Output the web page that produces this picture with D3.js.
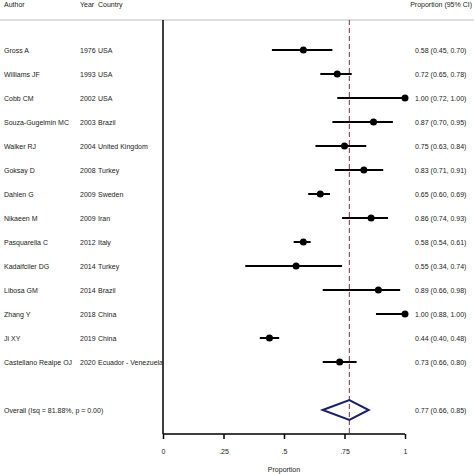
<!DOCTYPE html>
<html>
<head>
<meta charset="utf-8">
<script src="https://cdn.jsdelivr.net/npm/d3@7"></script>
<style>
  body { margin: 0; background: #fff; }
  text { font-family: "Liberation Sans", Arial, sans-serif; }
</style>
</head>
<body>
<div id="chart"></div>
<script>
// study data
var authors = ["Gross A", "Williams JF", "Cobb CM", "Souza-Gugelmin MC", "Walker RJ", "Goksay D",
  "Dahlen G", "Nikaeen M", "Pasquarella C", "Kadaifciler DG", "Libosa GM", "Zhang Y", "Ji XY",
  "Castellano Realpe OJ"];
var years = [1976, 1993, 2002, 2003, 2004, 2008, 2009, 2009, 2012, 2014, 2014, 2018, 2019, 2020];
var countries = ["USA", "USA", "USA", "Brazil", "United Kingdom", "Turkey", "Sweden", "Iran", "Italy",
  "Turkey", "Brazil", "China", "China", "Ecuador - Venezuela"];
var est = [0.58, 0.72, 1.00, 0.87, 0.75, 0.83, 0.65, 0.86, 0.58, 0.55, 0.89, 1.00, 0.44, 0.73];
var lo = [0.45, 0.65, 0.72, 0.70, 0.63, 0.71, 0.60, 0.74, 0.54, 0.34, 0.66, 0.88, 0.40, 0.66];
var hi = [0.70, 0.78, 1.00, 0.95, 0.84, 0.91, 0.69, 0.93, 0.61, 0.74, 0.98, 1.00, 0.48, 0.80];
var overall = {est: 0.77, lo: 0.66, hi: 0.85, label: "Overall  (Isq = 81.88%, p = 0.00)"};
var xTicks = [0, 0.25, 0.5, 0.75, 1];
var xTickLabels = ["0", ".25", ".5", ".75", "1"];

var W = 474, H = 474;
var svg = d3.select("#chart").append("svg")
  .attr("width", W).attr("height", H);

var x = d3.scaleLinear().domain([0, 1]).range([163, 405]);
// row positions: studies then a gap then overall
var y = d3.scaleLinear().domain([0, 1]).range([50, 74]);
var yOverall = y(authors.length - 1) + 48;
var axisY = 434, topY = 20;
var fs = "7px";

// header
svg.append("line").attr("x1", 0).attr("x2", W).attr("y1", topY).attr("y2", topY)
  .attr("stroke", "#bbb").attr("stroke-width", 1);
var hdr = [["Author", 4, "start"], ["Year", 80, "start"], ["Country", 98, "start"],
  ["Proportion (95% CI)", 472, "end"]];
svg.selectAll(".hdr").data(hdr).enter().append("text")
  .attr("x", function(d) { return d[1]; }).attr("y", 7)
  .attr("text-anchor", function(d) { return d[2]; })
  .attr("font-size", fs).attr("fill", "#222").text(function(d) { return d[0]; });

// null line at 0
svg.append("line").attr("x1", x(0)).attr("x2", x(0)).attr("y1", topY).attr("y2", axisY)
  .attr("stroke", "#000").attr("stroke-width", 1.5);

// overall estimate dashed line
svg.append("line").attr("x1", x(overall.est)).attr("x2", x(overall.est)).attr("y1", topY).attr("y2", axisY)
  .attr("stroke", "#8b2a3a").attr("stroke-width", 1).attr("stroke-dasharray", "5,3");

var idx = d3.range(authors.length);

// study labels
var rows = svg.append("g");
rows.selectAll(".au").data(idx).enter().append("text")
  .attr("x", 4).attr("y", function(i) { return y(i) + 2.5; })
  .attr("font-size", fs).attr("fill", "#222").text(function(i) { return authors[i]; });
rows.selectAll(".yr").data(idx).enter().append("text")
  .attr("x", 80).attr("y", function(i) { return y(i) + 2.5; })
  .attr("font-size", fs).attr("fill", "#222").text(function(i) { return years[i]; });
rows.selectAll(".co").data(idx).enter().append("text")
  .attr("x", 98).attr("y", function(i) { return y(i) + 2.5; })
  .attr("font-size", fs).attr("fill", "#222").text(function(i) { return countries[i]; });
rows.selectAll(".ci").data(idx).enter().append("text")
  .attr("x", 415).attr("y", function(i) { return y(i) + 2.5; })
  .attr("font-size", fs).attr("fill", "#222")
  .text(function(i) { return est[i].toFixed(2) + " (" + lo[i].toFixed(2) + ", " + hi[i].toFixed(2) + ")"; });

// CI lines and points
rows.selectAll(".bar").data(idx).enter().append("line")
  .attr("x1", function(i) { return x(lo[i]); }).attr("x2", function(i) { return x(hi[i]); })
  .attr("y1", function(i) { return y(i); }).attr("y2", function(i) { return y(i); })
  .attr("stroke", "#000").attr("stroke-width", 2);
rows.selectAll(".pt").data(idx).enter().append("circle")
  .attr("cx", function(i) { return x(est[i]); }).attr("cy", function(i) { return y(i); })
  .attr("r", 3.5).attr("fill", "#000");

// overall
svg.append("text").attr("x", 4).attr("y", yOverall + 2.5).attr("font-size", fs).attr("fill", "#222")
  .text(overall.label);
svg.append("text").attr("x", 415).attr("y", yOverall + 2.5).attr("font-size", fs).attr("fill", "#222")
  .text(overall.est.toFixed(2) + " (" + overall.lo.toFixed(2) + ", " + overall.hi.toFixed(2) + ")");
svg.append("path")
  .attr("d", "M" + x(overall.lo) + "," + yOverall +
    "L" + x(overall.est) + "," + (yOverall - 10) +
    "L" + x(overall.hi) + "," + yOverall +
    "L" + x(overall.est) + "," + (yOverall + 10) + "Z")
  .attr("fill", "none").attr("stroke", "#1a1f6e").attr("stroke-width", 2);

// x axis
var xAxis = svg.append("g").attr("transform", "translate(0," + axisY + ")")
  .call(d3.axisBottom(x).tickValues(xTicks).tickSize(5).tickPadding(10)
    .tickFormat(function(d, i) { return xTickLabels[i]; }));
xAxis.select(".domain").attr("stroke", "#000").attr("stroke-width", 1.5)
  .attr("d", "M" + x(0) + ",0H" + x(1));
xAxis.selectAll(".tick line").attr("stroke", "#000").attr("stroke-width", 1.5);
xAxis.selectAll(".tick text").attr("font-size", fs).attr("fill", "#222")
  .attr("font-family", "Liberation Sans, Arial, sans-serif");

svg.append("text").attr("x", x(0.5)).attr("y", 472).attr("text-anchor", "middle")
  .attr("font-size", fs).attr("fill", "#222").text("Proportion");
</script>
</body>
</html>
